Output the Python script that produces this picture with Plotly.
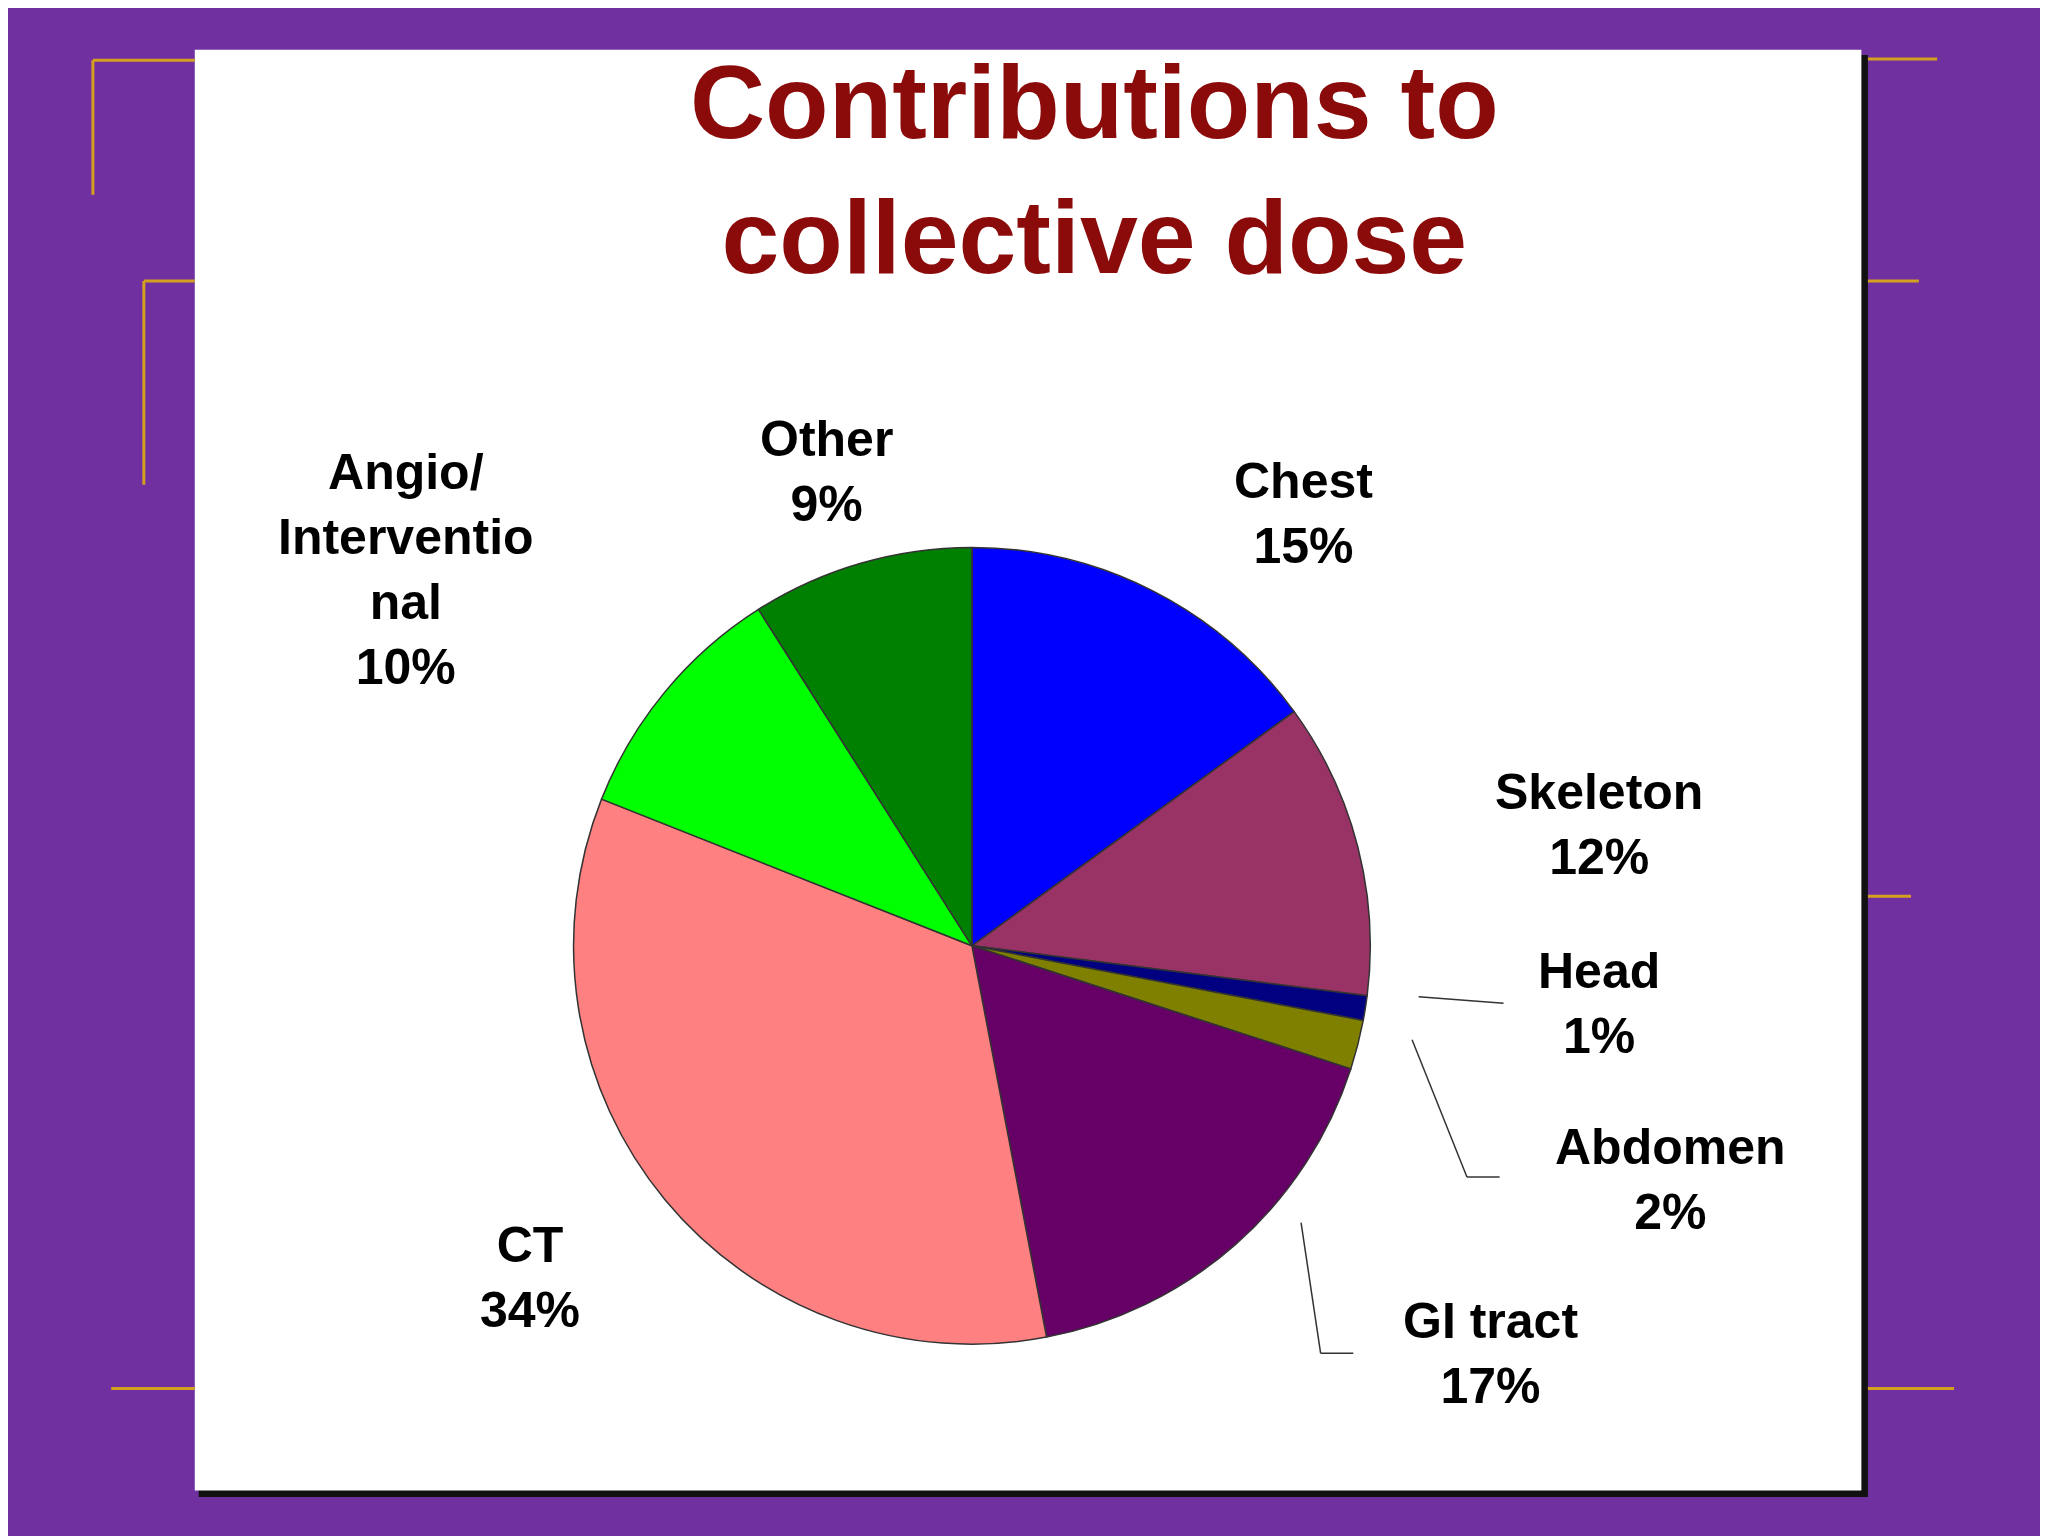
import plotly.graph_objects as go

# slice data, clockwise from 12 o'clock
labels = ["Chest", "Skeleton", "Head", "Abdomen", "GI tract", "CT", "Angio/Interventional", "Other"]
values = [15, 12, 1, 2, 17, 34, 10, 9]
colors = ["#0000FF", "#993366", "#000080", "#808000", "#660066", "#FF8080", "#00FF00", "#008000"]
label_text = ["Chest<br>15%", "Skeleton<br>12%", "Head<br>1%", "Abdomen<br>2%", "GI tract<br>17%",
              "CT<br>34%", "Angio/<br>Interventio<br>nal<br>10%", "Other<br>9%"]
# label centres in reference pixels (1568x1176 view)
label_pos = [(992, 387), (1218, 625), (1218, 762), (1273, 897), (1135, 1030),
             (400, 972), (305, 430), (627, 355)]

W0, H0 = 1568, 1176
px = lambda x: x / W0
py = lambda y: 1 - y / H0

fig = go.Figure(go.Pie(
    labels=labels, values=values, sort=False, direction="clockwise", rotation=0,
    marker=dict(colors=colors, line=dict(color="#333333", width=1.5)),
    textinfo="none", hoverinfo="label+percent", showlegend=False,
    domain=dict(x=[px(738 - 330), px(738 + 330)], y=[py(718 + 305), py(718 - 305)]),
))

font = dict(family="Liberation Sans, Arial", size=50, color="black")
for t, (x, y) in zip(label_text, label_pos):
    fig.add_annotation(x=px(x), y=py(y), xref="paper", yref="paper", text="<b>%s</b>" % t,
                       showarrow=False, font=font, align="center",
                       xanchor="center", yanchor="middle")

fig.add_annotation(x=px(832), y=py(124), xref="paper", yref="paper",
                   text="<b>Contributions to<br>collective dose</b>", showarrow=False,
                   font=dict(family="Liberation Sans, Arial", size=104, color="#8B0A0A"),
                   align="center", xanchor="center", yanchor="middle")

shapes = []
def line(pts, color, width):
    for (x0, y0), (x1, y1) in zip(pts[:-1], pts[1:]):
        shapes.append(dict(type="line", xref="paper", yref="paper", x0=px(x0), y0=py(y0),
                           x1=px(x1), y1=py(y1), line=dict(color=color, width=width)))

# white panel with shadow
shapes.append(dict(type="rect", xref="paper", yref="paper", x0=px(146), y0=py(1140), x1=px(1424), y1=py(36),
                   fillcolor="#111111", line=dict(width=0), layer="below"))
shapes.append(dict(type="rect", xref="paper", yref="paper", x0=px(143), y0=py(1135), x1=px(1419), y1=py(32),
                   fillcolor="white", line=dict(width=0), layer="below"))

gold = "#D4A020"
line([(143, 40), (65, 40), (65, 143)], gold, 3)
line([(143, 209), (104, 209), (104, 365)], gold, 3)
line([(1424, 39), (1477, 39)], gold, 3)
line([(1424, 209), (1463, 209)], gold, 3)
line([(1424, 680), (1457, 680)], gold, 3)
line([(79, 1057), (143, 1057)], gold, 3)
line([(1424, 1057), (1490, 1057)], gold, 3)

# leader lines
line([(1080, 757), (1145, 762)], "#333333", 1.5)
line([(1075, 790), (1117, 895), (1142, 895)], "#333333", 1.5)
line([(990, 930), (1005, 1030), (1030, 1030)], "#333333", 1.5)

fig.update_layout(width=2048, height=1536, margin=dict(l=0, r=0, t=0, b=0),
                  paper_bgcolor="#7030A0", plot_bgcolor="#7030A0", shapes=shapes)
fig.write_html("out.html")
